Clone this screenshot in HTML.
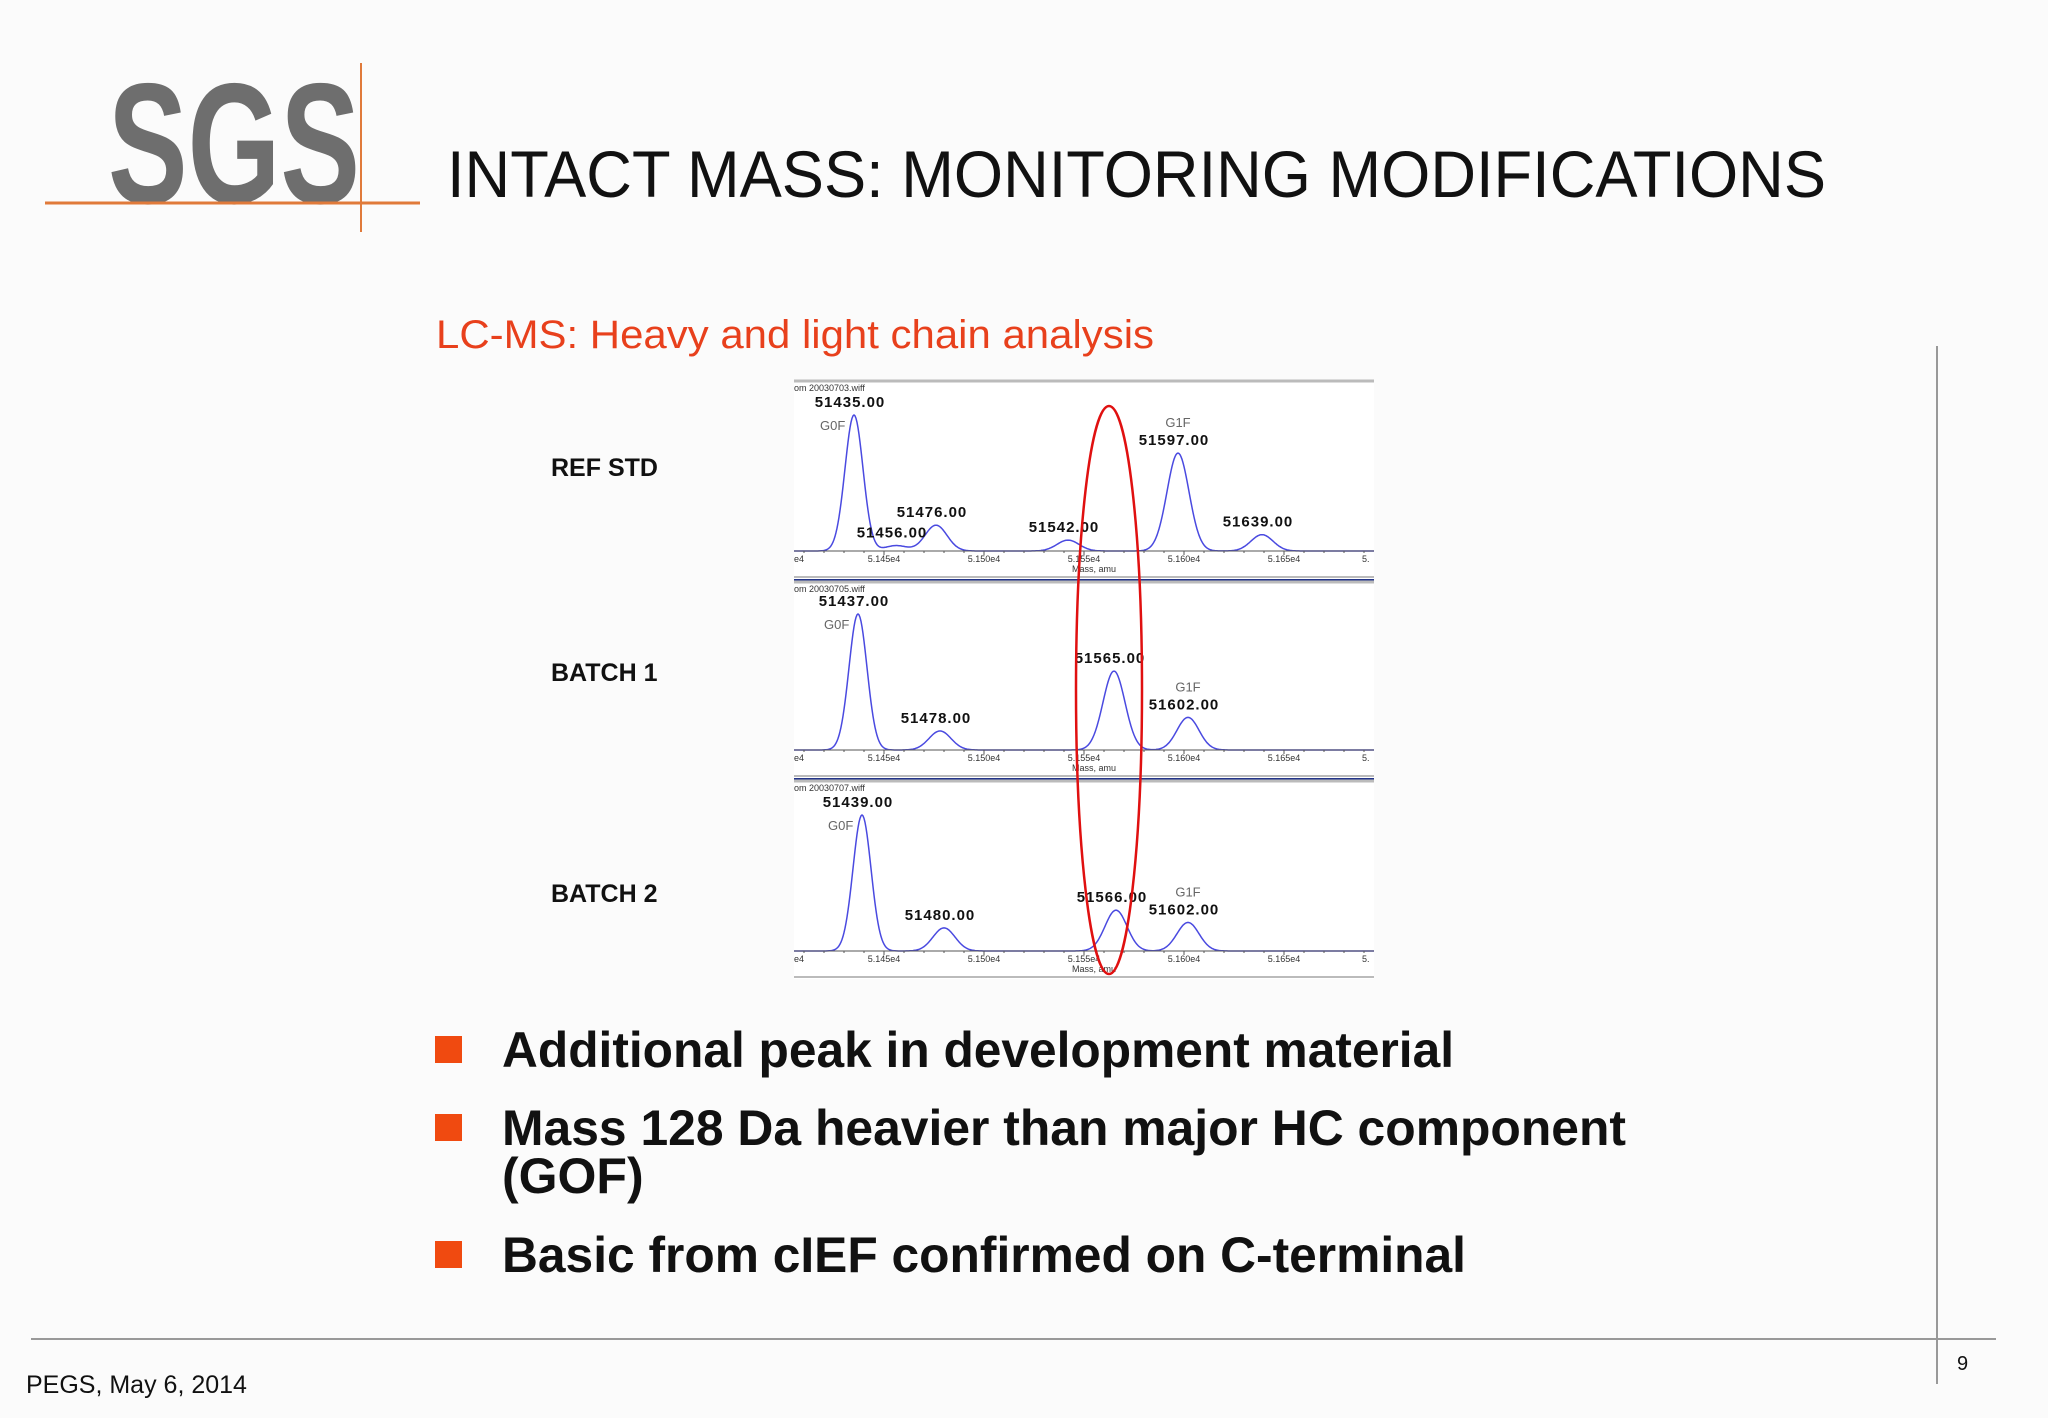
<!DOCTYPE html>
<html><head><meta charset="utf-8"><style>
html,body{margin:0;padding:0;background:#fbfbfb;}
svg{display:block;}
text{font-family:"Liberation Sans",sans-serif;}
</style></head><body>
<svg id="slide" width="2048" height="1418" viewBox="0 0 2048 1418" xmlns="http://www.w3.org/2000/svg">
<rect width="2048" height="1418" fill="#fbfbfb"/>
<g>
<text x="108" y="203" font-size="172" font-weight="bold" fill="#6e6e6e" textLength="252" lengthAdjust="spacingAndGlyphs">SGS</text>
<line x1="45" y1="203" x2="420" y2="203" stroke="#e07a3a" stroke-width="3"/>
<line x1="361" y1="63" x2="361" y2="232" stroke="#e07a3a" stroke-width="2"/>
</g>
<text x="447" y="197" font-size="66" fill="#111" textLength="1379" lengthAdjust="spacingAndGlyphs">INTACT MASS: MONITORING MODIFICATIONS</text>
<text x="436" y="348" font-size="40" fill="#e8401c" textLength="718" lengthAdjust="spacingAndGlyphs">LC-MS: Heavy and light chain analysis</text>
<text x="551" y="476" font-size="25" font-weight="bold" fill="#111">REF STD</text>
<text x="551" y="681" font-size="25" font-weight="bold" fill="#111">BATCH 1</text>
<text x="551" y="902" font-size="25" font-weight="bold" fill="#111">BATCH 2</text>
<g id="chart"></g>
<ellipse cx="1109" cy="690" rx="33" ry="284" fill="none" stroke="#e01010" stroke-width="2.5"/>
<g>
<rect x="435" y="1036" width="27" height="27" fill="#f04a10"/>
<text x="502" y="1067" font-size="50" font-weight="bold" fill="#111" textLength="952" lengthAdjust="spacingAndGlyphs">Additional peak in development material</text>
<rect x="435" y="1114" width="27" height="27" fill="#f04a10"/>
<text x="502" y="1145" font-size="50" font-weight="bold" fill="#111" textLength="1124" lengthAdjust="spacingAndGlyphs">Mass 128 Da heavier than major HC component</text>
<text x="502" y="1193" font-size="50" font-weight="bold" fill="#111">(GOF)</text>
<rect x="435" y="1241" width="27" height="27" fill="#f04a10"/>
<text x="502" y="1272" font-size="50" font-weight="bold" fill="#111" textLength="964" lengthAdjust="spacingAndGlyphs">Basic from cIEF confirmed on C-terminal</text>
</g>
<line x1="31" y1="1339" x2="1996" y2="1339" stroke="#999" stroke-width="2"/>
<line x1="1937" y1="346" x2="1937" y2="1384" stroke="#999" stroke-width="2"/>
<text x="1957" y="1370" font-size="20" fill="#111">9</text>
<text x="26" y="1393" font-size="25" fill="#111">PEGS, May 6, 2014</text>
</svg>
<script>
const panelNames = ["20030703.wiff","20030705.wiff","20030707.wiff"];
const p1Mass = [51435,51456,51476,51542,51597,51639];
const p1Int  = [100,4,19,8,72,12];
const p2Mass = [51437,51478,51565,51602];
const p2Int  = [100,14,58,24];
const p3Mass = [51439,51480,51566,51602];
const p3Int  = [100,17,30,21];
const tickMasses = [51400,51450,51500,51550,51600,51650,51700];
const tickLabels = ["e4","5.145e4","5.150e4","5.155e4","5.160e4","5.165e4","5."];
const NS="http://www.w3.org/2000/svg";
const chart=document.getElementById('chart');
const X0=794,X1=1374;
function x(m){return 884+(m-51450)*2.0;}
const panels=[{top:381,base:551,masses:p1Mass,ints:p1Int,g0:0,g1:4},
{top:582,base:750,masses:p2Mass,ints:p2Int,g0:0,g1:3},
{top:781,base:951,masses:p3Mass,ints:p3Int,g0:0,g1:3}];
function mk(tag,attrs,parent){const e=document.createElementNS(NS,tag);for(const k in attrs)e.setAttribute(k,attrs[k]);(parent||chart).appendChild(e);return e;}
panels.forEach((p,pi)=>{
 const g=mk('g',{});
 
 
 mk('rect',{x:X0,y:p.top,width:X1-X0,height:p.base+28-p.top,fill:'#fff'},g);
 mk('line',{x1:X0,y1:p.top,x2:X1,y2:p.top,stroke:'#bbb','stroke-width':3},g);
 const fn=mk('text',{x:X0,y:p.top+10,'font-size':9,fill:'#333'},g);fn.textContent='om '+panelNames[pi];
 function y(v){return p.base-v*1.36;}
 let d='';
 for(let px=X0;px<=X1;px+=1){
  const m=51450+(px-884)/2.0;let v=0;
  p.masses.forEach((mm,i)=>{const w=(i===0?4.5:5.5);v+=p.ints[i]*Math.exp(-((m-mm)*(m-mm))/(2*w*w));});
  d+=(px===X0?'M':'L')+px+','+y(v).toFixed(1);
 }
 const path=mk('path',{d:d,fill:'none',stroke:'#4a4ae0','stroke-width':1.5},g);
 
 
 mk('line',{x1:X0,y1:p.base,x2:X1,y2:p.base,stroke:'#555','stroke-width':1},g);
 for(let m=51400;m<=51740;m+=10){const tx=x(m);if(tx<X0||tx>X1)continue;mk('line',{x1:tx,y1:p.base,x2:tx,y2:p.base+(m%50===0?4:2),stroke:'#555'},g);}
 tickMasses.forEach((m,i)=>{let tx=x(m);let anchor='middle';if(i===0){tx=X0;anchor='start';}if(i===tickMasses.length-1){tx=X1-12;anchor='start';}
  const t=mk('text',{x:tx,y:p.base+11,'font-size':9,fill:'#333','text-anchor':anchor},g);t.textContent=tickLabels[i];
  });
 const mt=mk('text',{x:x(51555),y:p.base+21,'font-size':9,fill:'#333','text-anchor':'middle'},g);mt.textContent='Mass, amu';
 
 mk('line',{x1:X0,y1:p.base+26,x2:X1,y2:p.base+26,stroke:'#bbb','stroke-width':2},g);
 if(pi<2)mk('line',{x1:X0,y1:p.base+29,x2:X1,y2:p.base+29,stroke:'#223388','stroke-width':2},g);
 p.masses.forEach((m,i)=>{
  const t=mk('text',{x:x(m)-4,y:y(p.ints[i])-8,'font-size':15,'font-weight':'bold',fill:'#111','text-anchor':'middle','letter-spacing':1},g);
  t.textContent=m.toFixed(2);
  
  
 });
 const g0=mk('text',{x:x(p.masses[p.g0])-34,y:y(p.ints[p.g0])+15,'font-size':13,fill:'#666'},g);g0.textContent='G0F';
 
 const gi=p.g1;
 const g1=mk('text',{x:x(p.masses[gi]),y:y(p.ints[gi])-26,'font-size':13,fill:'#666','text-anchor':'middle'},g);g1.textContent='G1F';
 
});
</script>
</body></html>
